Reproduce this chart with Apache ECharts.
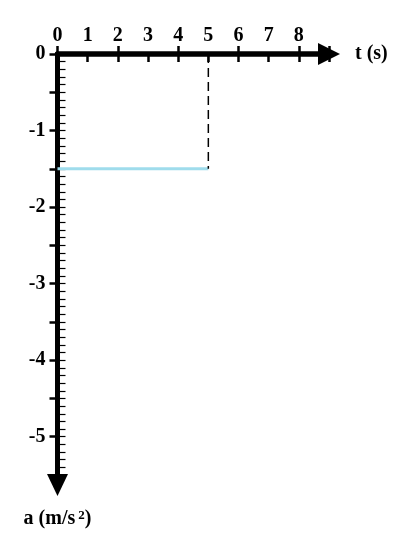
<!DOCTYPE html>
<html>
<head>
<meta charset="utf-8">
<script src="https://cdn.jsdelivr.net/npm/echarts@6/dist/echarts.min.js"></script>
<style>
  html, body { margin: 0; padding: 0; background: #fff; }
  #chart { width: 410px; height: 554px; }
</style>
</head>
<body>
<div id="chart"></div>
<script>
// 시간축 눈금 (t, 초)
let tTicks = [0, 1, 2, 3, 4, 5, 6, 7, 8];
// 가속도축 눈금 (a, m/s²)
let aTicks = [0, -1, -2, -3, -4, -5];
// 가속도 구간: 0~5초 동안 -1.5
let accTime = [0, 5];
let accValue = [-1.5, -1.5];
// 5초 지점 점선
let dashTime = [5, 5];
let dashValue = [0, -1.5];

let fontFam = '"Liberation Serif", serif';

function pairs(xs, ys) {
	let out = [];
	for (let i = 0; i < xs.length; i++) {
		out.push([xs[i], ys[i]]);
	}
	return out;
}

var myChart = echarts.init(document.getElementById('chart'));

var option = {
	animation: false,
	grid: { left: 57.5, top: 54, right: 81, bottom: 79 },
	xAxis: [
		{
			type: 'value', position: 'top', min: 0, max: 9, interval: 1, z: 3,
			name: 't (s)', nameLocation: 'end', nameGap: 26,
			nameTextStyle: { fontFamily: fontFam, fontWeight: 'bold', fontSize: 20, color: '#000' },
			axisLine: {
				lineStyle: { color: '#000', width: 5.5 },
				symbol: ['none', 'triangle'], symbolSize: [22, 22]
			},
			axisTick: { inside: true, length: 8, lineStyle: { color: '#000', width: 2.5 } },
			axisLabel: {
				margin: 8, fontFamily: fontFam, fontWeight: 'bold', fontSize: 20, color: '#000',
				formatter: function (v) { return tTicks.indexOf(v) >= 0 ? String(v) : ''; }
			},
			splitLine: { show: false }
		},
		{
			type: 'value', position: 'top', min: 0, max: 9, interval: 2, z: 3,
			axisLine: { show: false },
			axisTick: { inside: false, length: 8, lineStyle: { color: '#000', width: 2.5 } },
			axisLabel: { show: false },
			splitLine: { show: false }
		}
	],
	yAxis: [
		{
			type: 'value', min: -5.5, max: 0, interval: 0.1, z: 3,
			name: 'a (m/s{sup|2})', nameLocation: 'start', nameGap: 34,
			nameTextStyle: {
				fontFamily: fontFam, fontWeight: 'bold', fontSize: 20, color: '#000',
				rich: {
					sup: { fontFamily: fontFam, fontWeight: 'bold', fontSize: 13, color: '#000',
						verticalAlign: 'top', padding: [0, 0, 0, 3] }
				}
			},
			axisLine: {
				lineStyle: { color: '#000', width: 5 },
				symbol: ['triangle', 'none'], symbolSize: [21, 22], symbolOffset: [-10, 0]
			},
			axisTick: { inside: true, length: 8, lineStyle: { color: '#000', width: 1.2 } },
			axisLabel: {
				margin: 12, fontFamily: fontFam, fontWeight: 'bold', fontSize: 20, color: '#000',
				formatter: function (v) {
					let r = Math.round(v);
					if (Math.abs(v - r) > 1e-6) return '';
					r = r === 0 ? 0 : r;
					return aTicks.indexOf(r) >= 0 ? String(r) : '';
				}
			},
			splitLine: { show: false }
		},
		{
			type: 'value', position: 'left', min: -5.5, max: 0, interval: 0.5, z: 3,
			axisLine: { show: false },
			axisTick: { inside: false, length: 8, lineStyle: { color: '#000', width: 2.5 } },
			axisLabel: { show: false },
			splitLine: { show: false }
		}
	],
	series: [
		{
			type: 'line', xAxisIndex: 0, yAxisIndex: 0,
			data: pairs(accTime, accValue),
			symbol: 'none',
			lineStyle: { color: '#9fdcec', width: 3 }
		},
		{
			type: 'line', xAxisIndex: 0, yAxisIndex: 0,
			data: pairs(dashTime, dashValue),
			symbol: 'none',
			lineStyle: { color: '#000', width: 1.5, type: [9, 5] }
		}
	]
};

myChart.setOption(option);
</script>
</body>
</html>
